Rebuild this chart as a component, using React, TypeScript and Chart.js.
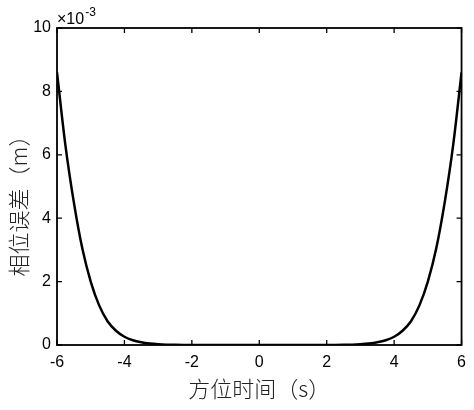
import React, { useEffect, useRef } from "react";
import { Chart, registerables } from "chart.js";

Chart.register(...registerables);

// Azimuth time (s)
const azimuthTime = [
  -6, -5.75, -5.5, -5.25, -5, -4.75, -4.5, -4.25, -4, -3.75, -3.5, -3.25, -3,
  -2.75, -2.5, -2.25, -2, -1.75, -1.5, -1.25, -1, -0.75, -0.5, -0.25, 0,
  0.25, 0.5, 0.75, 1, 1.25, 1.5, 1.75, 2, 2.25, 2.5, 2.75, 3, 3.25, 3.5,
  3.75, 4, 4.25, 4.5, 4.75, 5, 5.25, 5.5, 5.75, 6,
];
// Phase error (×10^-3 m)
const phaseError = [
  8.6, 6.3, 4.5, 3.05, 2.0, 1.25, 0.75, 0.45, 0.26, 0.15, 0.085, 0.045, 0.022,
  0.01, 0.005, 0.002, 0.001, 0, 0, 0, 0, 0, 0, 0, 0,
  0, 0, 0, 0, 0, 0, 0, 0.001, 0.002, 0.005, 0.01, 0.022, 0.045, 0.085,
  0.15, 0.26, 0.45, 0.75, 1.25, 2.0, 3.05, 4.5, 6.3, 8.6,
];
const xTicks = [-6, -4, -2, 0, 2, 4, 6];
const yTicks = [0, 2, 4, 6, 8, 10];
const xTitle = "方位时间（s）";
const yTitle = "相位误差（m）";
const yExponent = "-3";

const tickFont = { family: "'Liberation Sans', Arial, sans-serif", size: 16 };
const cjkFont = "300 22px 'Noto Sans CJK SC', sans-serif";

const framePlugin = {
  id: "matlabFrame",
  afterDraw(chart: any) {
    const { ctx, chartArea: a, scales } = chart;
    const xs = scales.x;
    const ys = scales.y;
    ctx.save();
    ctx.strokeStyle = "#000";
    ctx.lineWidth = 1.8;
    ctx.strokeRect(a.left, a.top, a.right - a.left, a.bottom - a.top);
    ctx.lineWidth = 1.3;
    const tl = 5;
    ctx.beginPath();
    for (const v of xTicks) {
      const px = xs.getPixelForValue(v);
      ctx.moveTo(px, a.bottom);
      ctx.lineTo(px, a.bottom - tl);
      ctx.moveTo(px, a.top);
      ctx.lineTo(px, a.top + tl);
    }
    for (const v of yTicks) {
      const py = ys.getPixelForValue(v);
      ctx.moveTo(a.left, py);
      ctx.lineTo(a.left + tl, py);
      ctx.moveTo(a.right, py);
      ctx.lineTo(a.right - tl, py);
    }
    ctx.stroke();

    // exponent label
    ctx.fillStyle = "#000";
    ctx.textBaseline = "alphabetic";
    ctx.textAlign = "left";
    ctx.font = "16px 'Liberation Sans', Arial, sans-serif";
    const base = "\u00d710";
    ctx.fillText(base, a.left, a.top - 4);
    const w = ctx.measureText(base).width;
    ctx.font = "12px 'Liberation Sans', Arial, sans-serif";
    ctx.fillText(yExponent, a.left + w + 1, a.top - 12);

    // axis titles
    ctx.fillStyle = "#222";
    ctx.font = cjkFont;
    ctx.textAlign = "center";
    ctx.textBaseline = "middle";
    ctx.fillText(xTitle, (a.left + a.right) / 2, 389);
    ctx.translate(19, (a.top + a.bottom) / 2 + 14);
    ctx.rotate(-Math.PI / 2);
    ctx.fillText(yTitle, 0, 0);
    ctx.restore();
  },
};

export default function App() {
  const ref = useRef<HTMLCanvasElement | null>(null);
  useEffect(() => {
    if (!ref.current) return;
    const chart = new Chart(ref.current, {
      type: "line",
      data: {
        datasets: [
          {
            data: azimuthTime.map((x, i) => ({ x, y: phaseError[i] })),
            borderColor: "#000",
            borderWidth: 2.5,
            pointRadius: 0,
            fill: false,
            cubicInterpolationMode: "monotone",
          },
        ],
      },
      options: {
        responsive: false,
        animation: false,
        layout: { padding: { top: 28, right: 10, left: 0, bottom: 0 } },
        plugins: { legend: { display: false }, tooltip: { enabled: false } },
        scales: {
          x: {
            type: "linear",
            min: -6,
            max: 6,
            grid: { display: false, drawTicks: false },
            border: { display: false },
            ticks: { color: "#000", font: tickFont, padding: 8, maxRotation: 0 },
            afterBuildTicks: (s: any) => {
              s.ticks = xTicks.map((v) => ({ value: v }));
            },
            afterFit: (s: any) => {
              s.height = 65;
            },
          },
          y: {
            type: "linear",
            min: 0,
            max: 10,
            grid: { display: false, drawTicks: false },
            border: { display: false },
            ticks: { color: "#000", font: tickFont, padding: 6 },
            afterBuildTicks: (s: any) => {
              s.ticks = yTicks.map((v) => ({ value: v }));
            },
            afterFit: (s: any) => {
              s.width = 57;
            },
          },
        },
      },
      plugins: [framePlugin],
    } as any);
    return () => chart.destroy();
  }, []);
  return (
    <div
      style={{
        position: "fixed",
        left: 0,
        top: 0,
        width: 474,
        height: 410,
        background: "#fff",
      }}
    >
      <canvas ref={ref} width={474} height={410} />
    </div>
  );
}
